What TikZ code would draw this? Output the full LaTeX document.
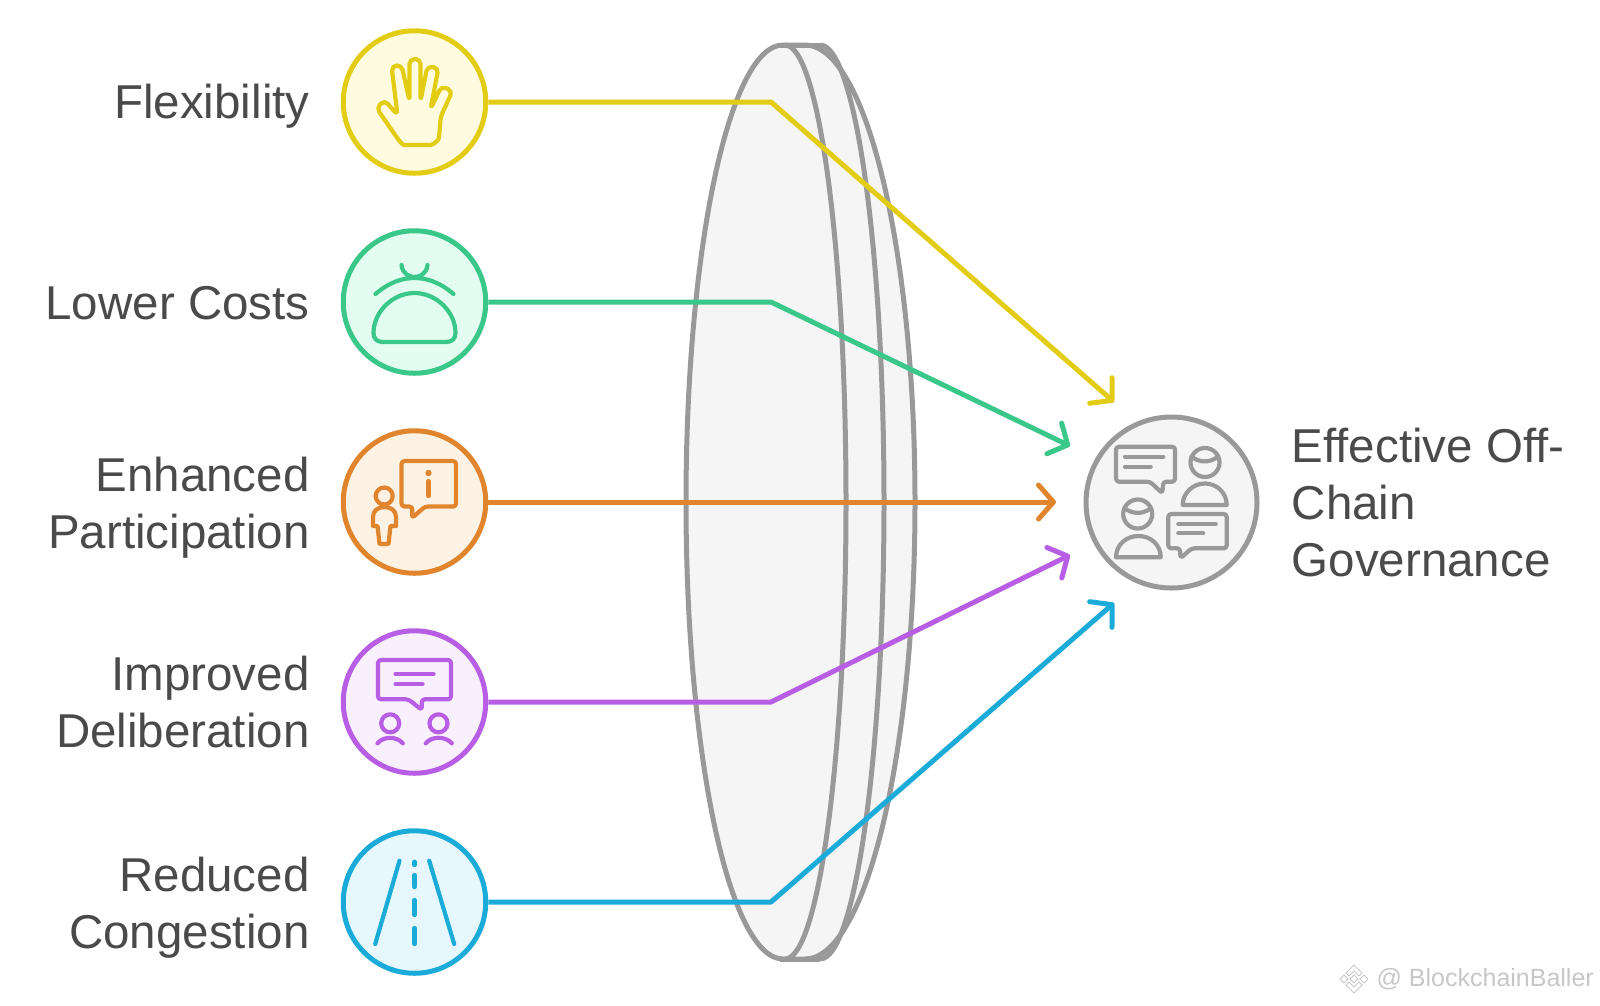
\documentclass[tikz,border=0pt]{standalone}
\usepackage{fontspec}
\setmainfont{Liberation Sans}
\usetikzlibrary{arrows.meta,positioning,calc}
\definecolor{cyel}{HTML}{E2CD14}
\definecolor{cgrn}{HTML}{39C78A}
\definecolor{cora}{HTML}{E0852E}
\definecolor{cpur}{HTML}{B85EE5}
\definecolor{cblu}{HTML}{1BABD9}
\definecolor{cgry}{HTML}{999999}
\definecolor{ctxt}{HTML}{4A4A4A}
\definecolor{fyel}{HTML}{FFFBE0}
\definecolor{fgrn}{HTML}{E3FDF1}
\definecolor{fora}{HTML}{FEF2E4}
\definecolor{fpur}{HTML}{F9F0FE}
\definecolor{fblu}{HTML}{E6F8FE}
\definecolor{fgry}{HTML}{F5F5F5}

\begin{document}
\begin{tikzpicture}[
  x=1pt,y=-1pt,
  dot/.style={draw, circle, line width=5pt, minimum size=142.5pt, inner sep=0pt},
  lbl/.style={align=right, text=ctxt, inner sep=0pt, font=\fontsize{47.5}{57}\selectfont},
  arr/.style={-{Straight Barb[length=15pt,width=34pt,round]}, line width=5pt, line join=round},
  ico/.style={line width=4.2pt, line cap=round, line join=round}
]
\useasboundingbox (0,0) rectangle (1600,1005);

% lens
\draw[cgry, line width=5pt, fill=fgry] (783,45) arc[start angle=90,end angle=270,x radius=97pt,y radius=457pt]
  -- (805,959) arc[start angle=-90,end angle=90,x radius=110pt,y radius=457pt] -- cycle;
\draw[cgry, line width=5pt] (785,45) arc[start angle=90,end angle=-90,x radius=61pt,y radius=457pt];
\draw[cgry, line width=5pt] (820,45) arc[start angle=90,end angle=-90,x radius=64pt,y radius=457pt];
\draw[cgry, line width=5pt] (780,45) -- (820,45) (780,959) -- (820,959);

% circles
\node[dot, draw=cyel, fill=fyel] (flex) at (414.5,102) {};
\node[dot, draw=cgrn, fill=fgrn] (cost) at (414.5,302) {};
\node[dot, draw=cora, fill=fora] (part) at (414.5,502) {};
\node[dot, draw=cpur, fill=fpur] (deli) at (414.5,702) {};
\node[dot, draw=cblu, fill=fblu] (cong) at (414.5,902) {};
\node[dot, draw=cgry, fill=fgry, minimum size=171pt] (gov) at (1171.5,502.5) {};

% labels
\node[lbl, left=31pt of flex, yshift=-4pt] (flexl) {Flexibility};
\node[lbl, left=31pt of cost, yshift=-1pt] (costl) {Lower Costs};
\node[lbl, left=31pt of part, yshift=-6pt] (partl) {Enhanced\\Participation};
\node[lbl, left=31pt of deli] (delil) {Improved\\Deliberation};
\node[lbl, left=31pt of cong, yshift=-6pt] (congl) {Reduced\\Congestion};
\node[lbl, align=left, right=32pt of gov] (govl) {Effective Off-\\Chain\\Governance};

% connectors
\coordinate (bflex) at (771,102);
\coordinate (bcost) at (771,302);
\coordinate (bpart) at (771,502);
\coordinate (bdeli) at (771,702);
\coordinate (bcong) at (771,902);
\coordinate (tflex) at (1114,402);
\coordinate (tcost) at (1070,446);
\coordinate (tpart) at (1056,502);
\coordinate (tdeli) at (1070,555);
\coordinate (tcong) at (1114,603);
\foreach \x/\c in {flex/cyel,cost/cgrn,part/cora,deli/cpur,cong/cblu}{\draw[arr,\c] (\x.east) -- (b\x) -- (t\x);}

% hand
\begin{scope}[shift={(flex.center)}, ico, cyel]
\draw[rounded corners=5pt] (-17,13) -- (-23,-36) -- (-13,-37) -- (-5,-1) -- (-5,-43) -- (6,-43) -- (6,-1) -- (13,-36) -- (24,-34) -- (16,7) -- (27,-16) -- (38,-11) -- (26,15)
  -- (25,31) .. controls (24,39) and (18,43) .. (11,43) -- (-5,43) .. controls (-12,43) and (-15,39) .. (-18,35) -- (-38,6) -- (-30,-2) -- cycle;
\end{scope}

% purse
\begin{scope}[shift={(cost.center)}, ico, cgrn]
\draw (-13,-37) .. controls (-12,-28) and (-5,-25) .. (0,-25) .. controls (5,-25) and (12,-28) .. (13,-37);
\draw (-39,-8) .. controls (-25,-20) and (-12,-24) .. (0,-24) .. controls (12,-24) and (25,-20) .. (39,-8);
\draw (-32,40) -- (32,40) .. controls (38,40) and (41,36) .. (41,31) .. controls (41,10) and (22,-9) .. (0,-9) .. controls (-22,-9) and (-41,10) .. (-41,31) .. controls (-41,36) and (-38,40) .. (-32,40) -- cycle;
\end{scope}

% person with info bubble
\begin{scope}[shift={(part.center)}, ico, cora]
\draw[rounded corners=3pt] (-13,-41) -- (41.5,-41) -- (41.5,4.5) -- (10.5,4.5) -- (-2.5,16) -- (-2,4.5) -- (-13,4.5) -- cycle;
\fill (14,-29) circle (3.2pt);
\draw (14,-21) -- (14,-6);
\draw (-30.3,-6) circle (8.5pt);
\draw (-30,5) .. controls (-37,5) and (-41.5,9) .. (-41.5,15) -- (-41.5,24) -- (-37,24) -- (-35,42) -- (-26,42) -- (-24,24) -- (-18.5,24) -- (-18.5,15) .. controls (-18.5,9) and (-23,5) .. (-30,5) -- cycle;
\end{scope}

% two people with bubble
\begin{scope}[shift={(deli.center)}, ico, cpur]
\draw[rounded corners=3pt] (-36.5,-42) -- (36.5,-42) -- (36.5,-2.7) -- (7.3,-2.7) -- (7.3,8) -- (-6,-2.7) -- (-36.5,-2.7) -- cycle;
\draw (-19,-28) -- (19,-28) (-19,-17.7) -- (8,-17.7);
\draw (-24.3,21.3) circle (9pt) (24,21.3) circle (9pt);
\draw (-37,41.3) .. controls (-31,34) and (-18,34) .. (-11.7,41.3);
\draw (11.3,41.3) .. controls (17,34) and (31,34) .. (37.3,41.3);
\end{scope}

% road
\begin{scope}[shift={(cong.center)}, ico, cblu]
\draw (-15,-41.3) -- (-39.3,42) (14.7,-41.3) -- (39.7,42);
\draw (0,-40.3) -- (0,-37) (0,-27) -- (0,-15) (0,-2) -- (0,13) (0,26) -- (0,42);
\end{scope}

% discussion
\begin{scope}[shift={(gov.center)}, ico, cgry]
\draw[rounded corners=3pt] (-55.5,-55.8) -- (3.5,-55.8) -- (3.5,-20.8) -- (-8.2,-20.8) -- (-9.2,-9.2) -- (-21.5,-20.8) -- (-55.5,-20.8) -- cycle;
\draw (-46.5,-45.8) -- (-8.2,-45.8) (-46.5,-35.8) -- (-20.8,-35.8);
\draw (33.5,-40) circle (14.5pt);
\draw (20,-46) .. controls (27,-40) and (38,-39) .. (46.5,-46);
\draw (11.2,2.5) -- (55.2,2.5) .. controls (55.2,-10) and (45,-19) .. (33.5,-19) .. controls (22,-19) and (11.2,-10) .. (11.2,2.5) -- cycle;
\draw (-33.8,11.5) circle (14.5pt);
\draw (-47,5.5) .. controls (-40,11.5) and (-29,12.5) .. (-20.5,5.5);
\draw (-55.5,54.8) -- (-10.8,54.8) .. controls (-10.8,42) and (-21,33.5) .. (-33,33.5) .. controls (-45,33.5) and (-55.5,42) .. (-55.5,54.8) -- cycle;
\draw[rounded corners=3pt] (-3.2,11.5) -- (55.2,11.5) -- (55.2,45.8) -- (20.2,45.8) -- (9,55.8) -- (8.5,45.8) -- (-3.2,45.8) -- cycle;
\draw (6.8,21.5) -- (44.2,21.5) (6.8,30.8) -- (31.8,30.8);
\end{scope}

% watermark
\node[inner sep=0pt, text=black!22, anchor=east, font=\fontsize{25}{25}\selectfont] (mark) at (1594,979) {@ BlockchainBaller};
\begin{scope}[shift={(1354,979)}, black!22, line width=1pt]
\draw (-8,-6) -- (0,-14) -- (8,-6) -- (5,-3) -- (0,-8) -- (-5,-3) -- cycle;
\draw (-8,6) -- (0,14) -- (8,6) -- (5,3) -- (0,8) -- (-5,3) -- cycle;
\draw (0,-4) -- (4,0) -- (0,4) -- (-4,0) -- cycle;
\draw (-10,-4) -- (-6,0) -- (-10,4) -- (-14,0) -- cycle;
\draw (10,-4) -- (14,0) -- (10,4) -- (6,0) -- cycle;
\end{scope}
\end{tikzpicture}
\end{document}
